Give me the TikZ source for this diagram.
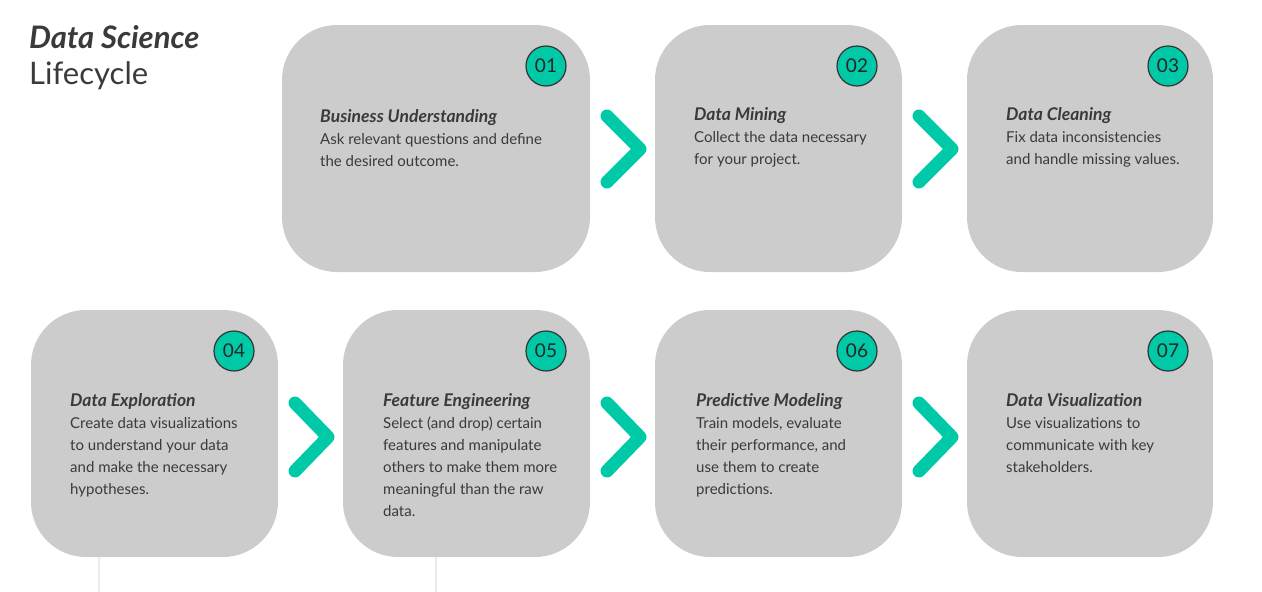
\documentclass[tikz,border=0pt]{standalone}
\usepackage{fontspec}
\setmainfont{Lato}
\definecolor{boxg}{HTML}{CCCCCC}
\definecolor{teal}{HTML}{00C9A7}
\definecolor{txt}{HTML}{3A3A3A}
\begin{document}
\begin{tikzpicture}[x=1pt,y=-1pt,
  card/.style={fill=boxg,rounded corners=55pt},
  num/.style={circle,fill=teal,draw=black!80,line width=1.2pt,minimum size=40pt,inner sep=0pt,font=\fontsize{19}{19}\selectfont,text=black!85},
  chev/.style={teal,line width=13pt,line cap=round,line join=round},
  head/.style={anchor=base west,inner sep=0pt,font=\fontsize{17.5}{20}\selectfont\bfseries\itshape,text=txt},
  body/.style={anchor=base west,inner sep=0pt,align=left,font=\fontsize{15}{22}\selectfont,text=txt}]
\useasboundingbox (0,0) rectangle (1262,592);
\draw[black!8,line width=2pt] (99,490) -- (99,592);
\draw[black!8,line width=2pt] (436,490) -- (436,592);
\node[anchor=base west,inner sep=0pt,font=\fontsize{31}{31}\selectfont\bfseries\itshape,text=txt] (t1) at (29,48) {Data Science};
\node[anchor=base west,inner sep=0pt,font=\fontsize{31}{31}\selectfont,text=txt] (t2) at (29,84) {Lifecycle};
% row 1
\fill[card] (282,25) rectangle (590,272);
\fill[card] (655,25) rectangle (902,272);
\fill[card] (967,25) rectangle (1213,272);
\fill[card] (31,310) rectangle (278,557);
\fill[card] (343,310) rectangle (590,557);
\fill[card] (655,310) rectangle (902,557);
\fill[card] (967,310) rectangle (1213,557);
\node[num] (n1) at (546,66) {01};
\node[num] (n2) at (857,66) {02};
\node[num] (n3) at (1168,66) {03};
\node[num] (n4) at (234,351) {04};
\node[num] (n5) at (546,351) {05};
\node[num] (n6) at (857,351) {06};
\node[num] (n7) at (1168,351) {07};
\draw[chev] (607,116) -- (640,149) -- (607,182);
\draw[chev] (919,116) -- (952,149) -- (919,182);
\draw[chev] (295,403) -- (328,437) -- (295,471);
\draw[chev] (607,403) -- (640,437) -- (607,471);
\draw[chev] (919,403) -- (952,437) -- (919,471);
\node[head] (h1) at (320,122) {Business Understanding};
\node[body,anchor=north west] (b1) at (320,133) {Ask relevant questions and define\\the desired outcome.};
\node[head] (h2) at (694,120) {Data Mining};
\node[body,anchor=north west] (b2) at (694,131) {Collect the data necessary\\for your project.};
\node[head] (h3) at (1006,120) {Data Cleaning};
\node[body,anchor=north west] (b3) at (1006,131) {Fix data inconsistencies\\and handle missing values.};
\node[head] (h4) at (70,406) {Data Exploration};
\node[body,anchor=north west] (b4) at (70,417) {Create data visualizations\\to understand your data\\and make the necessary\\hypotheses.};
\node[head] (h5) at (383,406) {Feature Engineering};
\node[body,anchor=north west] (b5) at (383,417) {Select (and drop) certain\\features and manipulate\\others to make them more\\meaningful than the raw\\data.};
\node[head] (h6) at (696,406) {Predictive Modeling};
\node[body,anchor=north west] (b6) at (696,417) {Train models, evaluate\\their performance, and\\use them to create\\predictions.};
\node[head] (h7) at (1006,406) {Data Visualization};
\node[body,anchor=north west] (b7) at (1006,417) {Use visualizations to\\communicate with key\\stakeholders.};
\end{tikzpicture}
\end{document}
